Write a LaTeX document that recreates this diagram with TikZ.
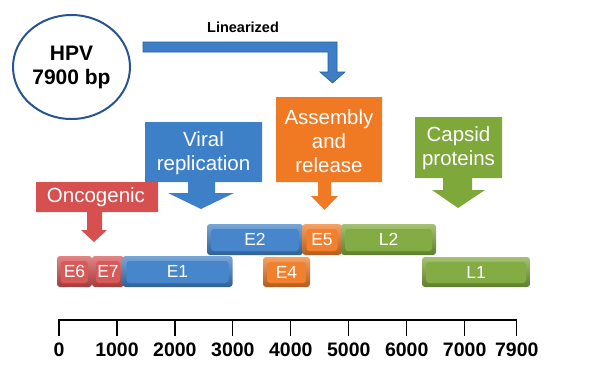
\documentclass[tikz,border=0pt]{standalone}
\usepackage{fontspec}
\setmainfont{Liberation Sans}
\usetikzlibrary{shapes.geometric}
\definecolor{cblue}{RGB}{62,128,200}
\definecolor{cred}{RGB}{215,80,80}
\definecolor{corange}{RGB}{240,122,35}
\definecolor{cgreen}{RGB}{126,168,58}
\definecolor{linblue}{RGB}{62,126,198}
\definecolor{lindark}{RGB}{40,92,160}
\definecolor{circblue}{RGB}{40,85,145}
\begin{document}
\begin{tikzpicture}[x=1pt,y=-1pt,
  callout/.style={fill=#1},
  callouttext/.style={text=white, align=center, inner sep=0pt, font=\fontsize{20.5}{24}\selectfont},
  gene/.style={rounded corners=3pt, inner sep=0pt, text=white,
    font=\fontsize{17.5}{17.5}\selectfont,
    top color=#1!70!white, bottom color=#1!75!black,
    path picture={\fill[#1!95!white] ([xshift=4pt,yshift=-5pt]path picture bounding box.north west)
      rectangle ([xshift=-4pt,yshift=4pt]path picture bounding box.south east);}},
  axislabel/.style={font=\bfseries\fontsize{19.5}{19.5}\selectfont, inner sep=0pt},
  tick/.style={line width=1.2pt}]
\useasboundingbox (0,0) rectangle (600,380);

% HPV circle
\node[draw=circblue, line width=2pt, ellipse, minimum width=117pt, minimum height=104pt, inner sep=0pt,
  align=center, font=\bfseries\fontsize{21}{24}\selectfont] (hpv) at (71.5,67) {HPV\\7900 bp};

% Linearized arrow
\filldraw[fill=linblue, draw=lindark, line width=0.6pt]
  (143,42) -- (337,42) -- (337,72) -- (345,72) -- (332.5,83) -- (320,72) -- (328,72) -- (328,52) -- (143,52) -- cycle;
\node[font=\bfseries\fontsize{14.5}{14.5}\selectfont] (lin) at (243,27) {Linearized};

% Callouts
\fill[callout=cblue] (145,122) -- (262,122) -- (262,182) -- (215,182) -- (215,193) -- (234,193)
  -- (201,209) -- (168,193) -- (188,193) -- (188,182) -- (145,182) -- cycle;
\node[callouttext] (viral) at (203.5,153) {Viral\\replication};

\fill[callout=corange] (276,97) -- (382,97) -- (382,182) -- (331,182) -- (331,196) -- (338,196)
  -- (324.5,210) -- (311,196) -- (318,196) -- (318,182) -- (276,182) -- cycle;
\node[callouttext] (assembly) at (329,141) {Assembly\\and\\release};

\fill[callout=cgreen] (415,117) -- (502,117) -- (502,178) -- (472,178) -- (472,190) -- (485,190)
  -- (458,208) -- (432,190) -- (443,190) -- (443,178) -- (415,178) -- cycle;
\node[callouttext] (capsid) at (458.5,148) {Capsid\\proteins};

\fill[callout=cred] (36,182) -- (158,182) -- (158,212) -- (102,212) -- (102,230) -- (107,230)
  -- (94,242) -- (81,230) -- (87,230) -- (87,212) -- (36,212) -- cycle;
\node[callouttext] (onco) at (96,197.5) {Oncogenic};

% Genes
\node[gene=cred, minimum width=35pt, minimum height=31pt] (E6) at (74.5,271.5) {E6};
\node[gene=cred, minimum width=32pt, minimum height=31pt] (E7) at (108,271.5) {E7};
\node[gene=cblue, minimum width=110pt, minimum height=31pt] (E1) at (177.5,271.5) {E1};
\node[gene=cblue, minimum width=96pt, minimum height=31pt] (E2) at (255,239.5) {E2};
\node[gene=corange, minimum width=47pt, minimum height=30pt] (E4) at (286.5,272) {E4};
\node[gene=corange, minimum width=39pt, minimum height=31pt] (E5) at (322,239.5) {E5};
\node[gene=cgreen, minimum width=95pt, minimum height=31pt] (L2) at (388.5,239.5) {L2};
\node[gene=cgreen, minimum width=108pt, minimum height=30pt] (L1) at (476,272) {L1};

% Axis
\coordinate (a0) at (59,320);
\coordinate (aend) at (516.7,320);
\draw[line width=2pt] ([xshift=-0.6pt]a0) -- ([xshift=0.6pt]aend);
\foreach \v/\lab in {0/0,1000/1000,2000/2000,3000/3000,4000/4000,5000/5000,6000/6000,7000/7000,7900/7900}{
  \coordinate (t\v) at ({59+0.05795*\v},320);
  \draw[tick] (t\v) -- ++(0,16);
  \node[axislabel] (l\v) at ({59+0.05795*\v},350) {\lab};
}
\end{tikzpicture}
\end{document}
